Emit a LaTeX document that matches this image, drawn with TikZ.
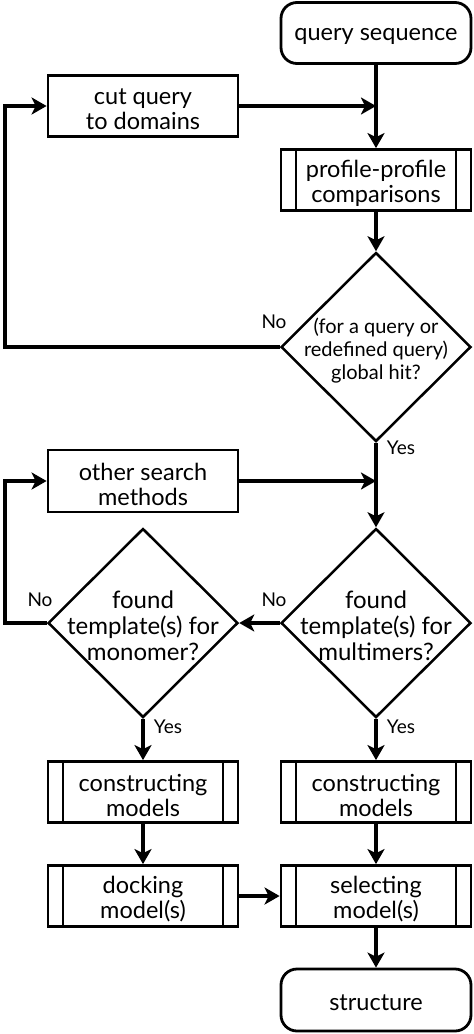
\documentclass[tikz,border=0pt]{standalone}
\usepackage{fontspec}
\setmainfont{Lato}
\usetikzlibrary{shapes.geometric,arrows.meta,calc}
\begin{document}
\begin{tikzpicture}[x=1pt,y=-1pt,
  every node/.style={align=center, inner sep=0pt},
  txt/.style={font=\fontsize{23.5}{25}\selectfont},
  dtxt/.style={font=\fontsize{24}{26}\selectfont},
  qtxt/.style={font=\fontsize{20}{23}\selectfont},
  boxnode/.style={draw, line width=2.8pt, minimum width=190pt, minimum height=61pt},
  termnode/.style={boxnode, rounded corners=16pt},
  procnode/.style={boxnode, path picture={
     \draw[line width=2.8pt] ([xshift=15pt]path picture bounding box.north west) -- ([xshift=15pt]path picture bounding box.south west);
     \draw[line width=2.8pt] ([xshift=-15pt]path picture bounding box.north east) -- ([xshift=-15pt]path picture bounding box.south east);}},
  decnode/.style={draw, diamond, line width=2.5pt, minimum width=190pt, minimum height=189pt},
  flow/.style={line width=4pt, -{Stealth[length=15pt,width=17pt,inset=4pt]}},
  plain/.style={line width=4pt},
  lbl/.style={font=\fontsize{19}{21}\selectfont}
]
\useasboundingbox (0,0) rectangle (474,1034);
\coordinate (L) at (5,0);
% shapes
\node[termnode] (qs) at (376,33) {};
\node[boxnode] (cut) at (143,106) {};
\node[procnode] (pp) at (376,180) {};
\node[decnode] (d1) at (376,347) {};
\node[boxnode, minimum height=62pt] (osm) at (143,481) {};
\node[decnode] (d2) at (376,623) {};
\node[decnode] (d3) at (143,623) {};
\node[procnode] (cm1) at (143,792) {};
\node[procnode] (cm2) at (376,792) {};
\node[procnode] (dock) at (143,896) {};
\node[procnode] (sel) at (376,896) {};
\node[termnode, minimum height=62pt] (st) at (376,1000) {};
% texts
\node[txt] (qst) at ([yshift=-3pt]qs) {query sequence};
\node[txt] (cutt) at ([yshift=-3pt]cut) {cut query\\to domains};
\node[txt] (ppt) at ([yshift=-3pt]pp) {profile-profile\\comparisons};
\node[qtxt] (d1t) at ([yshift=-4pt]d1) {(for a query or\\redefined query)\\global hit?};
\node[txt] (osmt) at ([yshift=-3pt]osm) {other search\\methods};
\node[dtxt] (d2t) at ([yshift=-3pt]d2) {found\\template(s) for\\multimers?};
\node[dtxt] (d3t) at ([yshift=-3pt]d3) {found\\template(s) for\\monomer?};
\node[txt] (cm1t) at ([yshift=-3pt]cm1) {constructing\\models};
\node[txt] (cm2t) at ([yshift=-3pt]cm2) {constructing\\models};
\node[txt] (dockt) at ([yshift=-3pt]dock) {docking\\model(s)};
\node[txt] (selt) at ([yshift=-3pt]sel) {selecting\\model(s)};
\node[txt] (stt) at ([yshift=-3pt]st) {structure};
% connectors
\coordinate (j1) at (cut.east -| qs.south);
\coordinate (j2) at (osm.east -| d2.north);
\draw[plain] (qs.south) -- (j1);
\draw[flow] (j1) -- (pp.north);
\draw[flow] (cut.east) -- (j1);
\draw[flow] (pp.south) -- (d1.north);
\draw[flow] (d1.west) -- (d1.west -| L) |- (cut.west);
\node[lbl] (no1) at (274,322) {No};
\draw[plain] (d1.south) -- (j2);
\draw[flow] (j2) -- (d2.north);
\draw[flow] (osm.east) -- (j2);
\node[lbl] (yes1) at (401,448) {Yes};
\draw[flow] (d2.west) -- (d3.east);
\node[lbl] (no2) at (274,600) {No};
\draw[flow] (d3.west) -- (d3.west -| L) |- (osm.west);
\node[lbl] (no3) at (40,600) {No};
\draw[flow] (d3.south) -- (cm1.north);
\node[lbl] (yes2) at (168,727) {Yes};
\draw[flow] (d2.south) -- (cm2.north);
\node[lbl] (yes3) at (401,727) {Yes};
\draw[flow] (cm1.south) -- (dock.north);
\draw[flow] (cm2.south) -- (sel.north);
\draw[flow] (dock.east) -- (sel.west);
\draw[flow] (sel.south) -- (st.north);
\end{tikzpicture}
\end{document}
